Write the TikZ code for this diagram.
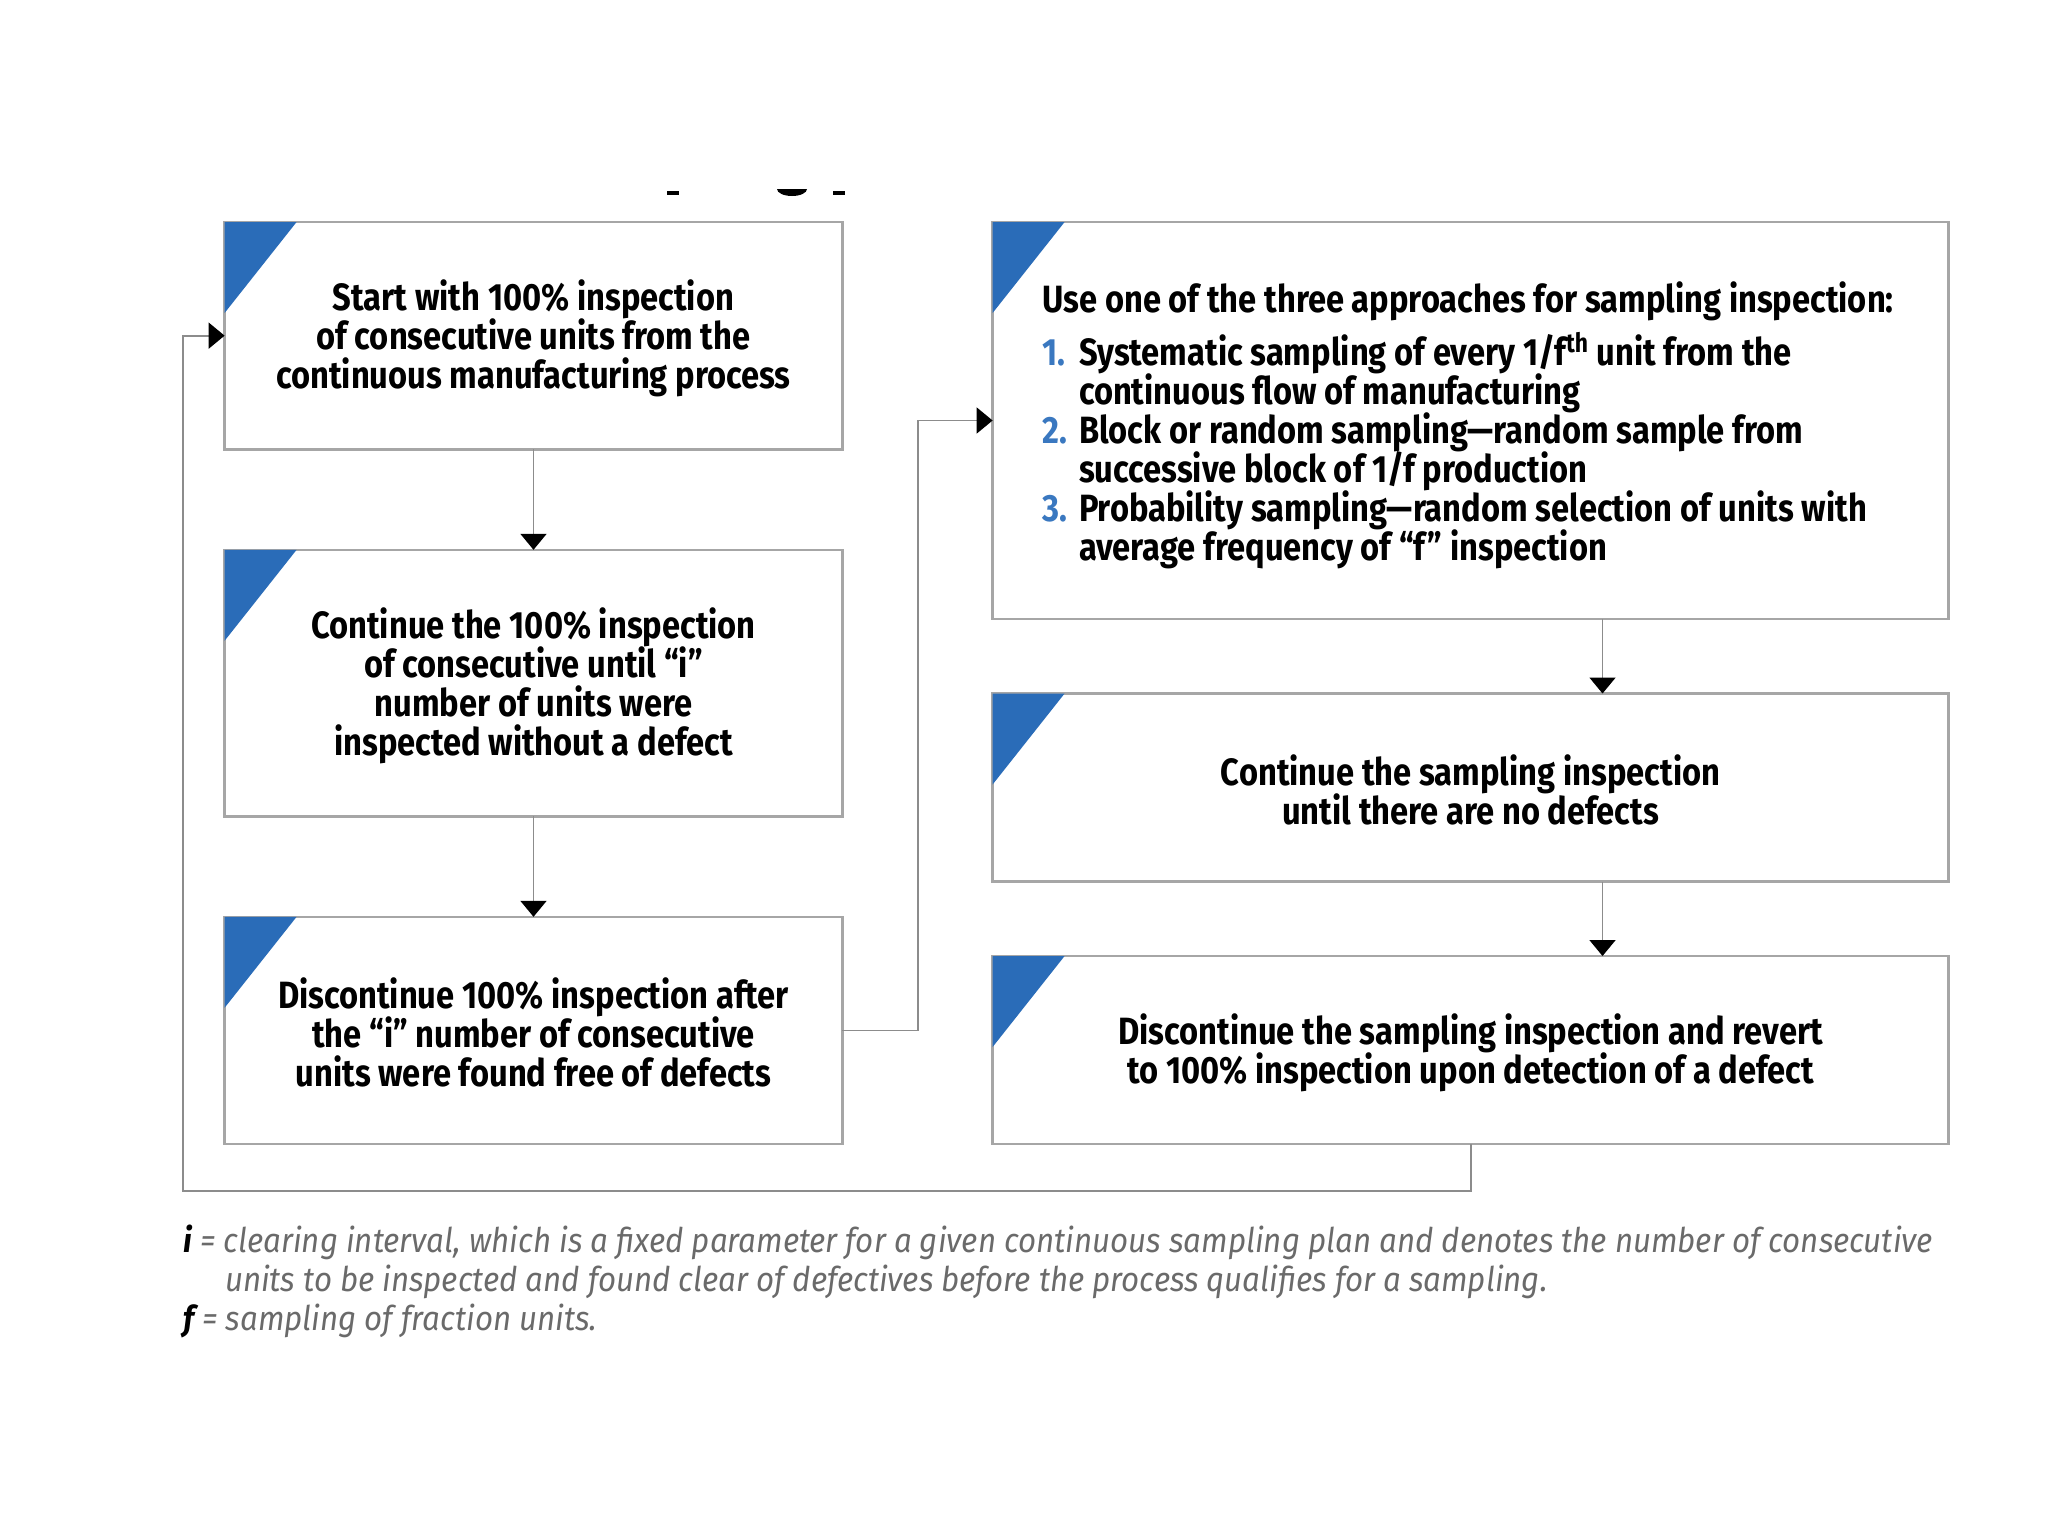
\documentclass[tikz,border=0pt]{standalone}
\usepackage{fontspec}
\usetikzlibrary{arrows.meta}
\newfontfamily\boxfont[FakeStretch=0.86]{Fira Sans}
\newfontfamily\notefont[FakeStretch=0.92]{Fira Sans}
\definecolor{triblue}{HTML}{2A6CB8}
\definecolor{numblue}{HTML}{3A78C0}
\definecolor{boxgray}{HTML}{A6A6A6}
\definecolor{linegray}{HTML}{8C8C8C}
\definecolor{notegray}{HTML}{6A6A6A}
\newcommand\numb[1]{\makebox[18.3pt][l]{\textcolor{numblue}{#1}}}
\newcommand\tightlines{\lineskiplimit=-30pt\relax}
\newcommand\boxfontsel{\boxfont\bfseries\fontsize{19}{19.5}\selectfont\tightlines}
\begin{document}
\begin{tikzpicture}[x=0.5pt,y=-0.5pt,
  stepbox/.style={draw=boxgray, line width=1.2pt, fill=white, outer sep=0pt, inner sep=0pt},
  boxtext/.style={font=\boxfontsel, inner sep=0pt},
  midtext/.style={boxtext, align=center, yshift=-1.5pt},
  corner/.style={fill=triblue},
  arr/.style={draw=linegray, line width=0.9pt, -{Triangle[length=8pt,width=13pt,fill=black,color=black]}},
  note/.style={anchor=base west, inner sep=0pt, text=notegray, font=\notefont\itshape\fontsize{17}{19.5}\selectfont},
  blot/.style={fill=black}]
\useasboundingbox (0,0) rectangle (2048,1536);
\fill[white] (0,0) rectangle (2048,1536);

% faint remnants of a cut-off title
\fill[blot] (667,190.5) rectangle (679,194.5);
\fill[blot] (807,189) arc[start angle=0,end angle=180,x radius=15,y radius=7] -- cycle;
\fill[blot] (833,190.5) rectangle (845,194.5);

% boxes
\node[stepbox, minimum width=308.9pt, minimum height=113.65pt] (b1) at (533.5,335.65) {};
\node[stepbox, minimum width=308.9pt, minimum height=133.25pt] (b2) at (533.5,683.05) {};
\node[stepbox, minimum width=308.9pt, minimum height=113.6pt] (b3) at (533.5,1030.4) {};
\node[stepbox, minimum width=478pt, minimum height=198.5pt] (b4) at (1470.6,420.5) {};
\node[stepbox, minimum width=478pt, minimum height=94.05pt] (b5) at (1470.6,787.55) {};
\node[stepbox, minimum width=478pt, minimum height=94pt] (b6) at (1470.6,1050) {};

% box texts
\node[midtext] (b1t) at (b1.center)
  {Start with 100\% inspection\\of consecutive units from the\\continuous manufacturing process};
\node[midtext] (b2t) at (b2.center)
  {Continue the 100\% inspection\\of consecutive until “i”\\number of units were\\inspected without a defect};
\node[midtext, yshift=0.5pt] (b3t) at (b3.center)
  {Discontinue 100\% inspection after\\the “i” number of consecutive\\units were found free of defects};
\node[midtext, yshift=0.5pt] (b5t) at (b5.center)
  {Continue the sampling inspection\\until there are no defects};
\node[midtext] (b6t) at (b6.center)
  {Discontinue the sampling inspection and revert\\to 100\% inspection upon detection of a defect};

\node[anchor=north west, align=left, boxtext] (b4t) at (1042,281)
  {Use one of the three approaches for sampling inspection:\\[7pt]
   \numb{1.}Systematic sampling of every 1/f\textsuperscript{th} unit from the\\
   \hspace*{18.3pt}continuous flow of manufacturing\\
   \numb{2.}Block or random sampling—random sample from\\
   \hspace*{18.3pt}successive block of 1/f production\\
   \numb{3.}Probability sampling—random selection of units with\\
   \hspace*{18.3pt}average frequency of “f” inspection};

% blue corner triangles
\foreach \b in {b1,b2,b3,b4,b5,b6}{
  \fill[corner] (\b.north west) -- ++(72,0) -- ++(-72,91) -- cycle;
}

% connectors
\coordinate (mx) at (918,0);
\coordinate (cx) at (1602.5,0);
\coordinate (fb) at (182.8,1191);
\draw[arr] (b1.south) -- (b2.north);
\draw[arr] (b2.south) -- (b3.north);
\draw[arr] (b3.east) -- (b3.east -| mx) -- (b4.west -| mx) -- (b4.west);
\draw[arr] (b4.south -| cx) -- (b5.north -| cx);
\draw[arr] (b5.south -| cx) -- (b6.north -| cx);
\draw[arr] (b6.south) |- (fb) |- (b1.west);

% footnote
\node[note] (n1) at (183,1252) {{\color{black}\bfseries i} = clearing interval, which is a fixed parameter for a given continuous sampling plan and denotes the number of consecutive};
\node[note] (n2) at (224.6,1291) {units to be inspected and found clear of defectives before the process qualifies for a sampling.};
\node[note] (n3) at (183,1330) {{\color{black}\bfseries f} = sampling of fraction units.};
\end{tikzpicture}
\end{document}
